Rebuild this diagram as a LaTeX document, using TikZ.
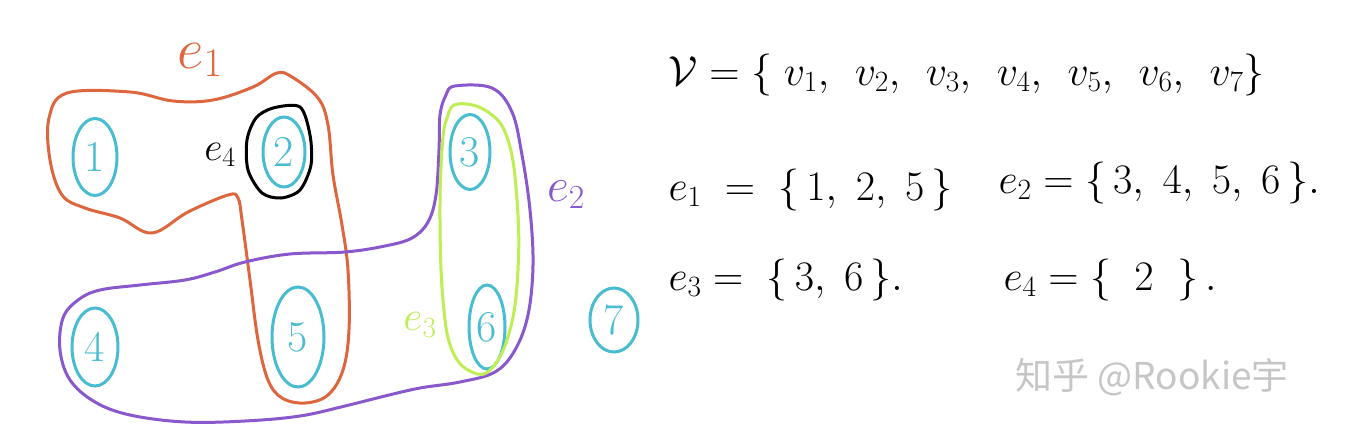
\documentclass[tikz,border=0pt]{standalone}
\usepackage{fix-cm}
\usepackage{fontspec}
\newfontfamily\cjkfont{Noto Sans CJK SC}
\usetikzlibrary{shapes.geometric}
\definecolor{vcyan}{RGB}{72,188,208}
\definecolor{eorange}{RGB}{222,102,62}
\definecolor{epurple}{RGB}{136,88,204}
\definecolor{egreen}{RGB}{190,238,84}
\tikzset{
  vert/.style 2 args={ellipse,draw=vcyan,text=vcyan,line width=3pt,inner sep=0pt,
    minimum width=#1,minimum height=#2,font=\fontsize{44}{48}\selectfont},
  hyper/.style={line width=3pt,line join=round},
  elabel/.style={font=\fontsize{#1}{#1}\selectfont},
  settext/.style={anchor=west,font=\fontsize{42}{50}\selectfont},
}
\begin{document}
\begin{tikzpicture}[x=1pt,y=-1pt]
    \useasboundingbox[fill=white] (0,0) rectangle (1350,432);
    % vertices
    \node[vert={44pt}{77pt}] (v1) at (95,157) {1};
    \node[vert={42pt}{70pt}] (v2) at (284,152) {2};
    \node[vert={40pt}{75pt}] (v3) at (470,152) {3};
    \node[vert={46pt}{78pt}] (v4) at (95,347) {4};
    \node[vert={52pt}{100pt}] (v5) at (298,337) {5};
    \node[vert={36pt}{84pt}] (v6) at (487,327) {6};
    \node[vert={48pt}{64pt}] (v7) at (614,320) {7};
    % hyperedges
    \draw[eorange,hyper] plot[smooth cycle,tension=0.6] coordinates {
      (67,93) (130,92) (173,101) (213,100) (253,87) (277,73) (292,77)
      (318,98) (328,125) (333,175) (342,225) (348,270) (349,330) (343,370)
      (328,395) (305,403) (282,398) (268,380) (258,340) (250,280) (242,220)
      (238,198) (228,195) (188,212) (152,233) (120,218) (85,208) (62,195)
      (50,160) (49,118)};
    \draw[epurple,hyper] plot[smooth cycle,tension=0.6] coordinates {
      (455,86) (492,88) (512,112) (522,155) (530,210) (533,265) (528,315)
      (515,350) (495,372) (460,382) (420,388) (385,396) (345,406) (300,416)
      (245,421) (185,422) (130,415) (95,402) (70,380) (60,350) (63,318)
      (78,300) (100,290) (140,285) (185,280) (215,272) (245,262) (290,254)
      (345,252) (385,246) (412,238) (428,222) (436,195) (439,150) (440,115)
      (446,95)};
    \draw[egreen,hyper] plot[smooth cycle,tension=0.7] coordinates {
      (458,104) (488,112) (508,140) (517,200) (518,270) (510,330) (492,368)
      (472,372) (452,350) (443,300) (440,220) (442,150) (447,118)};
    \draw[black,hyper] plot[smooth cycle] coordinates {
      (273,108) (300,107) (310,135) (311,165) (300,190) (281,198) (262,193)
      (248,170) (247,140) (256,118)};
    % edge labels
    \node[eorange,elabel=58] (le1) at (200,60) {$e_1$};
    \node[epurple,elabel=48] (le2) at (566,195) {$e_2$};
    \node[egreen,elabel=42] (le3) at (420,325) {$e_3$};
    \node[black,elabel=40] (le4) at (220,155) {$e_4$};
    % sets
    \node[settext] (vset) at (665,75) {$\mathcal{V} = \{\; v_1 ,\;\, v_2 ,\;\, v_3 ,\;\, v_4 ,\;\, v_5 ,\;\, v_6 ,\;\, v_7 \}$};
    \node[settext] (e1set) at (665,190) {$e_1 \;=\; \{\,1,\; 2,\; 5\,\}$};
    \node[settext] (e2set) at (995,183) {$e_2 = \{\,3,\; 4,\; 5,\; 6\,\}.$};
    \node[settext] (e3set) at (665,280) {$e_3 = \;\{\,3,\; 6\,\}.$};
    \node[settext] (e4set) at (1000,280) {$e_4 = \{\;\;2\;\;\}\,.$};
    % watermark
    \node[anchor=west,text=gray!45,font=\cjkfont\fontsize{37}{40}\selectfont] (mark) at (1012,377) {知乎 @Rookie宇};
\end{tikzpicture}
\end{document}
